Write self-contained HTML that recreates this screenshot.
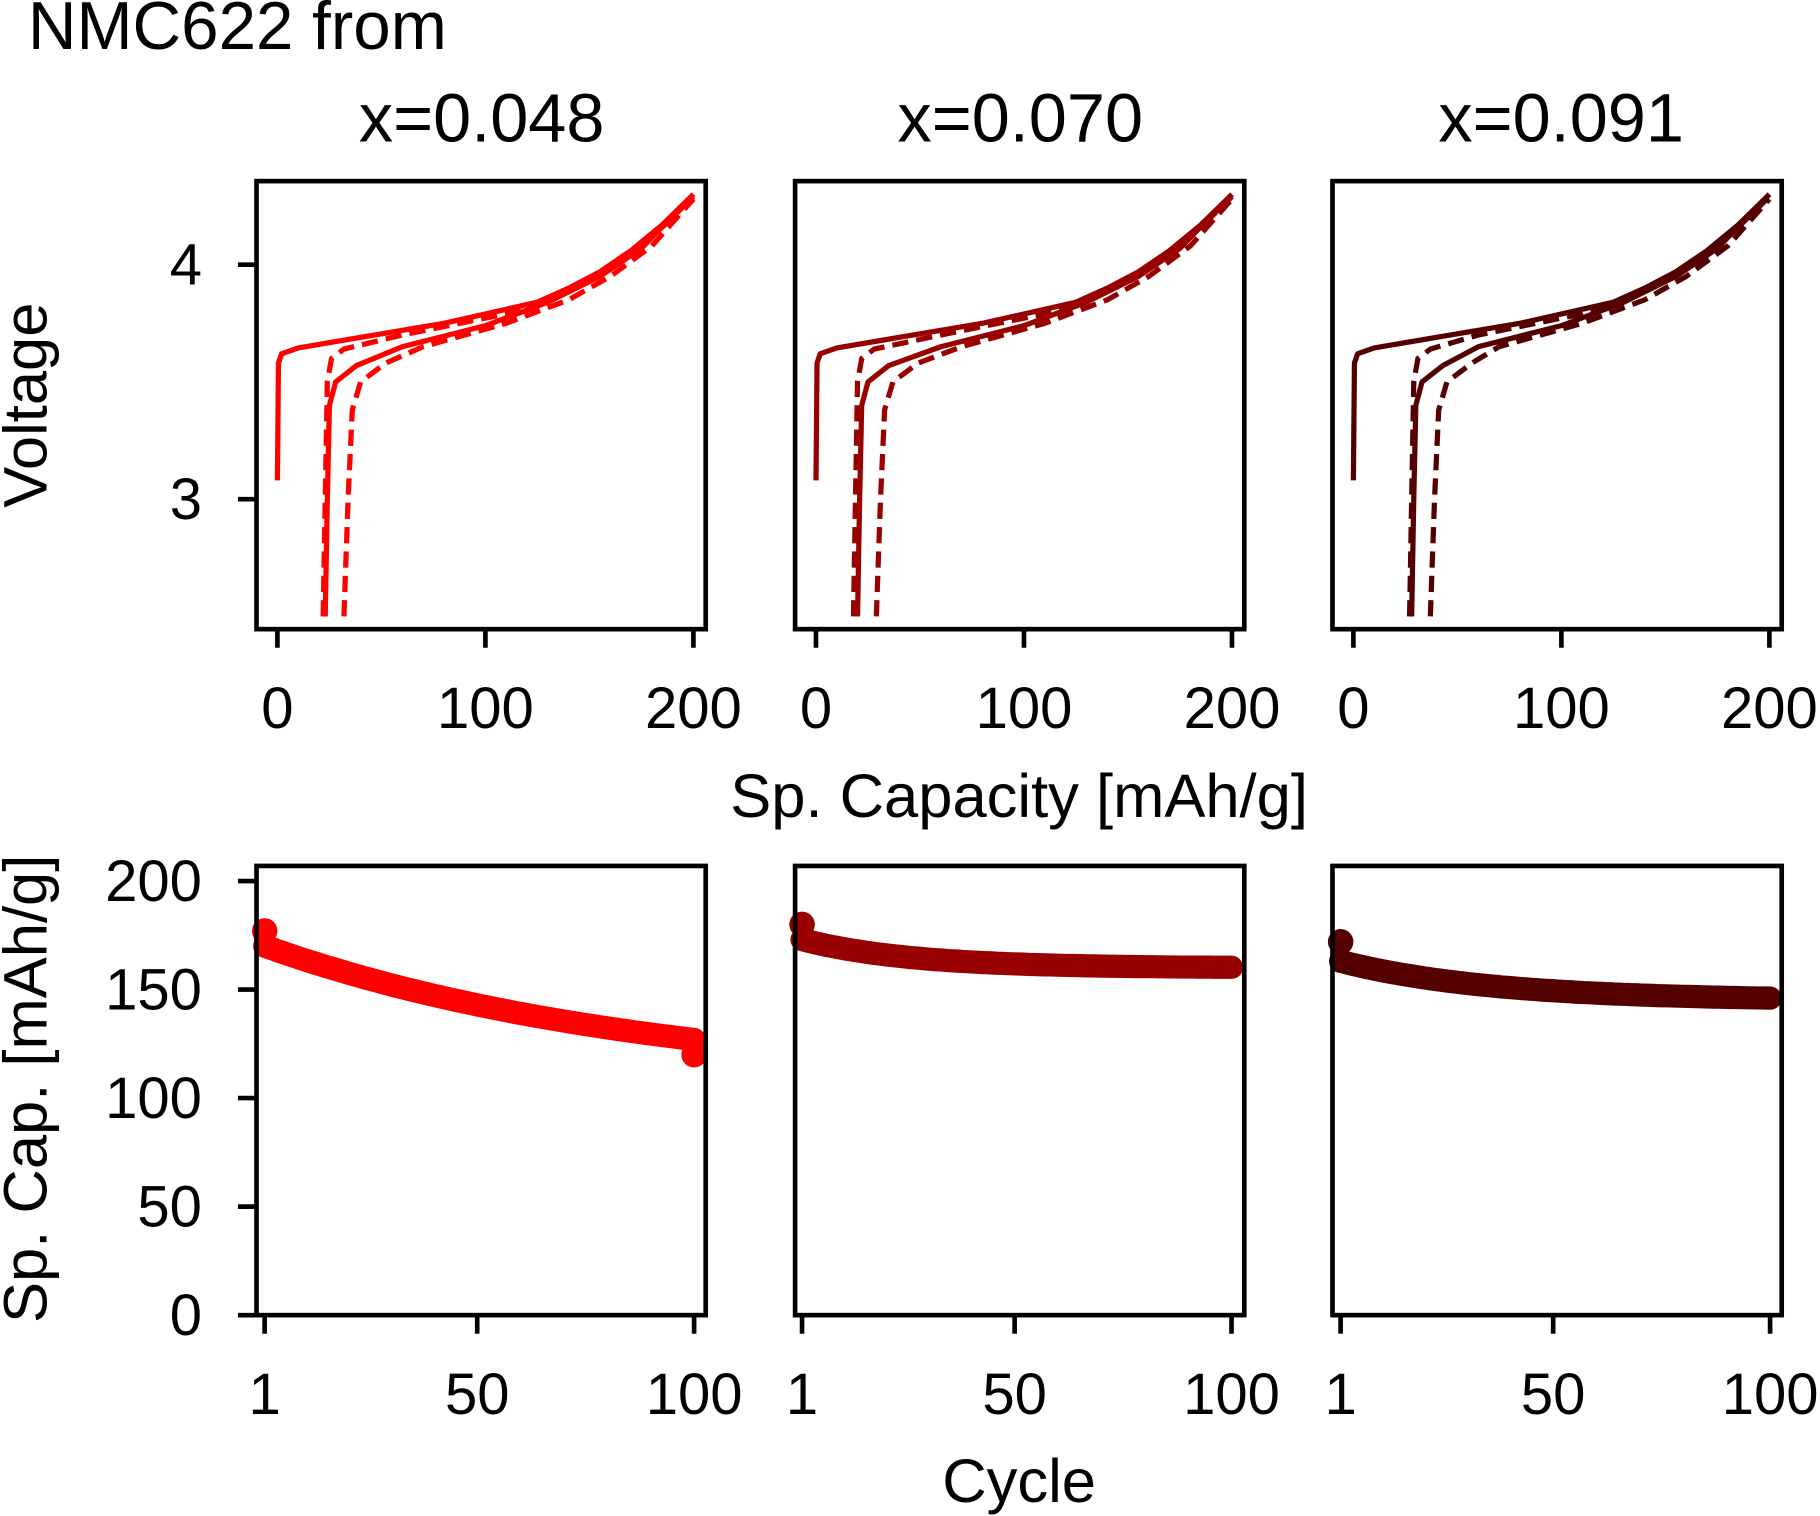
<!DOCTYPE html>
<html><head><meta charset="utf-8"><style>
html,body{margin:0;padding:0;background:#fff;}
svg{display:block;}
text{font-family:"Liberation Sans",sans-serif;fill:#000;}
</style></head><body>
<svg id="s" width="1820" height="1516" viewBox="0 0 1568 1306" xmlns="http://www.w3.org/2000/svg">
<text x="24" y="42" font-size="58">NMC622 from</text>
<text x="415" y="122" font-size="59" text-anchor="middle">x=0.048</text>
<text x="879" y="122" font-size="59" text-anchor="middle">x=0.070</text>
<text x="1345" y="122" font-size="59" text-anchor="middle">x=0.091</text>
<text x="878" y="704" font-size="53" text-anchor="middle">Sp. Capacity [mAh/g]</text>
<text x="878" y="1294" font-size="53" text-anchor="middle">Cycle</text>
<text transform="translate(40,349) rotate(-90)" font-size="53" text-anchor="middle">Voltage</text>
<text transform="translate(40,938) rotate(-90)" font-size="53" text-anchor="middle">Sp. Cap. [mAh/g]</text>
<g id="g"></g>
</svg>
<script>
var g=document.getElementById('g'),h='';
var cols=['#ff0000','#990000','#550000'];
var L=[221,685,1148],W=387;
function X0(i){return [239,703,1166][i];}
var sx=1.792;
function Y(v){return 228-(v-4)*202;}
var upper=[[110,3.8],[125,3.84],[140,3.9],[155,3.97],[170,4.06],[185,4.17],[200,4.3]];
function curve(i,pts,dash){
 var d='M'+pts.map(function(p){return (X0(i)+p[0]*sx).toFixed(1)+','+Y(p[1]).toFixed(1)}).join(' L');
 h+='<path d="'+d+'" fill="none" stroke="'+cols[i]+'" stroke-width="4.5" stroke-linejoin="round" '+(dash?'stroke-dasharray="14,7"':'')+'/>';
}
var offs=[[22,23,32],[18,20,29],[27,28,37]];
for(var i=0;i<3;i++){
 var l=L[i];
 curve(i,[[0,3.08],[0.5,3.58],[2,3.62],[10,3.645],[40,3.69],[80,3.75],[110,3.81]].concat(upper.slice(1)),false);
 var o=offs[i];
 curve(i,[[o[0],2.5],[o[0]+1,3.0],[o[0]+2,3.5],[o[0]+4,3.6],[o[0]+10,3.64],[60,3.7],[110,3.79],[125,3.83],[140,3.89],[155,3.96],[170,4.05],[185,4.16],[200,4.29]],true);
 curve(i,[[o[1],2.5],[o[1]+1,3.0],[o[1]+2,3.4],[o[1]+5,3.5],[o[1]+15,3.57],[60,3.65],[100,3.74],[130,3.84],[155,3.95],[175,4.07],[200,4.3]],false);
 curve(i,[[o[2],2.5],[o[2]+2,3.0],[o[2]+4,3.38],[o[2]+8,3.5],[o[2]+20,3.58],[70,3.65],[110,3.75],[140,3.85],[160,3.95],[180,4.08],[200,4.28]],true);
 h+='<rect x="'+l+'" y="156" width="'+W+'" height="386" fill="none" stroke="#000" stroke-width="4"/>';
 [0,100,200].forEach(function(t){var x=X0(i)+t*sx;h+='<line x1="'+x+'" y1="542" x2="'+x+'" y2="558" stroke="#000" stroke-width="4"/><text x="'+x+'" y="627" font-size="50" text-anchor="middle">'+t+'</text>';});
 var bx0=[228,691,1155][i],bs=(598-228)/99;
 function BX(c){return bx0+(c-1)*bs;} function BY(v){return 1133-v*1.87;}
 var f=[function(c){return 170-43*(1-Math.exp(-(c-1)/90))/(1-Math.exp(-99/90));},
        function(c){return 160+13*Math.exp(-(c-1)/25);},
        function(c){return 145+18*Math.exp(-(c-1)/35);}][i];
 var d='';for(var c=1;c<=100;c++){d+=(c==1?'M':'L')+BX(c).toFixed(1)+','+BY(f(c)).toFixed(1)+' ';}
 h+='<path d="'+d+'" fill="none" stroke="'+cols[i]+'" stroke-width="20" stroke-linecap="round"/>';
 var s0=[177,180,172][i];
 h+='<circle cx="'+BX(1)+'" cy="'+BY(s0)+'" r="11" fill="'+cols[i]+'"/>';
 if(i==0)h+='<circle cx="'+BX(100)+'" cy="'+BY(120)+'" r="11" fill="'+cols[i]+'"/>';
 h+='<rect x="'+l+'" y="746" width="'+W+'" height="387" fill="none" stroke="#000" stroke-width="4"/>';
 [1,50,100].forEach(function(t){var x=BX(t);h+='<line x1="'+x+'" y1="1133" x2="'+x+'" y2="1149" stroke="#000" stroke-width="4"/><text x="'+x+'" y="1218" font-size="50" text-anchor="middle">'+t+'</text>';});
}
[[4,228],[3,430]].forEach(function(a){h+='<line x1="205" y1="'+a[1]+'" x2="221" y2="'+a[1]+'" stroke="#000" stroke-width="4"/><text x="174" y="'+(a[1]+17)+'" font-size="50" text-anchor="end">'+a[0]+'</text>';});
[0,50,100,150,200].forEach(function(t){var y=1133-t*1.87;h+='<line x1="205" y1="'+y+'" x2="221" y2="'+y+'" stroke="#000" stroke-width="4"/><text x="174" y="'+(y+17)+'" font-size="50" text-anchor="end">'+t+'</text>';});
g.innerHTML=h;
</script>
</body></html>
